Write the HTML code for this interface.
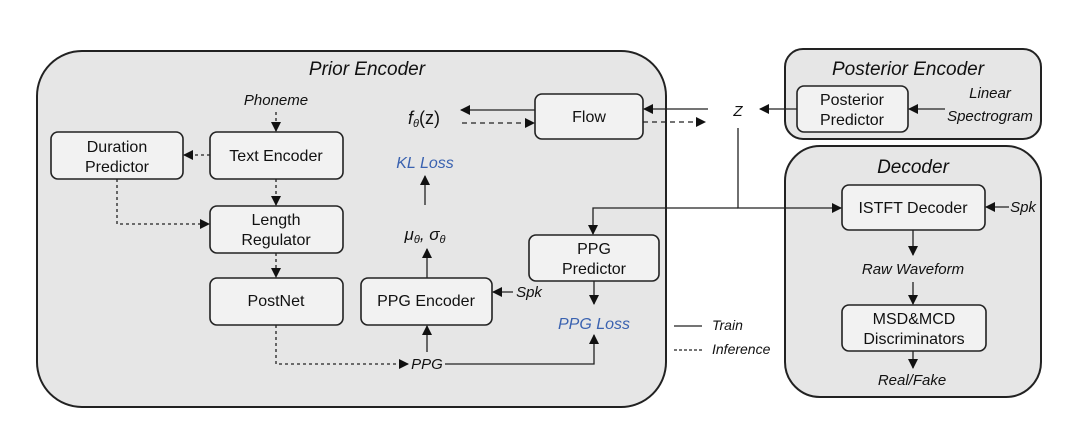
<!DOCTYPE html>
<html><head><style>body{margin:0;background:#fff}svg{display:block}text{font-family:"Liberation Sans",sans-serif;fill:#111}</style></head><body>
<svg width="1080" height="424" viewBox="0 0 1080 424" xmlns="http://www.w3.org/2000/svg">
<defs><marker id="a" markerWidth="10" markerHeight="10" refX="9" refY="5" orient="auto" markerUnits="userSpaceOnUse"><path d="M0,0 L10,5 L0,10z" fill="#111"/></marker></defs>
<g stroke="#222" stroke-width="2" fill="#e6e6e6">
<rect x="37" y="51" width="629" height="356" rx="45"/>
<rect x="785" y="49" width="256" height="90" rx="18"/>
<rect x="785" y="146" width="256" height="251" rx="35"/>
</g>
<g stroke="#222" stroke-width="1.6" fill="#f2f2f2">
<rect x="51" y="132" width="132" height="47" rx="7"/>
<rect x="210" y="132" width="133" height="47" rx="7"/>
<rect x="210" y="206" width="133" height="47" rx="7"/>
<rect x="210" y="278" width="133" height="47" rx="7"/>
<rect x="361" y="278" width="131" height="47" rx="7"/>
<rect x="535" y="94" width="108" height="45" rx="7"/>
<rect x="529" y="235" width="130" height="46" rx="7"/>
<rect x="797" y="86" width="111" height="46" rx="7"/>
<rect x="842" y="185" width="143" height="45" rx="7"/>
<rect x="842" y="305" width="144" height="46" rx="7"/>
</g>
<g font-size="16" text-anchor="middle">
<text x="367" y="75" font-size="19" font-style="italic">Prior Encoder</text>
<text x="908" y="75" font-size="19" font-style="italic">Posterior Encoder</text>
<text x="913" y="173" font-size="19" font-style="italic">Decoder</text>
<text x="276" y="105" font-style="italic" font-size="15">Phoneme</text>
<text x="117" y="152">Duration</text><text x="117" y="172">Predictor</text>
<text x="276" y="161">Text Encoder</text>
<text x="276" y="225">Length</text><text x="276" y="245">Regulator</text>
<text x="276" y="306">PostNet</text>
<text x="426" y="306">PPG Encoder</text>
<text x="589" y="122">Flow</text>
<text x="594" y="254">PPG</text><text x="594" y="274">Predictor</text>
<text x="852" y="105">Posterior</text><text x="852" y="125">Predictor</text>
<text x="913" y="213">ISTFT Decoder</text>
<text x="914" y="324">MSD&amp;MCD</text><text x="914" y="344">Discriminators</text>
<text x="424" y="124" font-family="Liberation Serif" font-style="italic" font-size="18">f<tspan font-size="11" dy="3">θ</tspan><tspan dy="-3" font-style="normal">(z)</tspan></text>
<text x="425" y="168" font-style="italic" style="fill:#3a62b0">KL Loss</text>
<text x="425" y="240" font-family="Liberation Serif" font-style="italic" font-size="17">μ<tspan font-size="11" dy="3">θ</tspan><tspan dy="-3">, σ</tspan><tspan font-size="11" dy="3">θ</tspan></text>
<text x="427" y="369" font-style="italic" font-size="15">PPG</text>
<text x="529" y="297" font-style="italic" font-size="15">Spk</text>
<text x="594" y="329" font-style="italic" style="fill:#3a62b0">PPG Loss</text>
<text x="738" y="116" font-style="italic" font-size="15">Z</text>
<text x="990" y="98" font-style="italic" font-size="15">Linear</text>
<text x="990" y="121" font-style="italic" font-size="15">Spectrogram</text>
<text x="1023" y="212" font-style="italic" font-size="15">Spk</text>
<text x="913" y="274" font-style="italic" font-size="15">Raw Waveform</text>
<text x="912" y="385" font-style="italic" font-size="15">Real/Fake</text>
<text x="712" y="330" text-anchor="start" font-style="italic" font-size="14">Train</text>
<text x="712" y="354" text-anchor="start" font-style="italic" font-size="14">Inference</text>
</g>
<g stroke="#222" stroke-width="1.3" fill="none" marker-end="url(#a)">
<path d="M276 112 V131" stroke-dasharray="3,3"/>
<path d="M210 155 H184" stroke-dasharray="3,3"/>
<path d="M276 179 V205" stroke-dasharray="3,3"/>
<path d="M117 179 V224 H209" stroke-dasharray="3,3"/>
<path d="M276 253 V277" stroke-dasharray="3,3"/>
<path d="M276 325 V364 H408" stroke-dasharray="3,3"/>
<path d="M427 352 V326"/>
<path d="M427 278 V249"/>
<path d="M425 205 V176"/>
<path d="M513 292 H493"/>
<path d="M445 364 H594 V335"/>
<path d="M594 281 V304"/>
<path d="M535 110 H461"/>
<path d="M462 123 H534" stroke-dasharray="5,4"/>
<path d="M708 109 H644"/>
<path d="M643 122 H705" stroke-dasharray="5,4"/>
<path d="M797 109 H760"/>
<path d="M945 109 H909"/>
<path d="M738 128 V208 H841"/>
<path d="M738 208 H593 V234"/>
<path d="M1009 207 H986"/>
<path d="M913 230 V255"/>
<path d="M913 282 V304"/>
<path d="M913 351 V368"/>
</g>
<g stroke="#222" stroke-width="1.3">
<path d="M674 326 H702"/>
<path d="M674 350 H702" stroke-dasharray="3,2"/>
</g>
</svg>
</body></html>
